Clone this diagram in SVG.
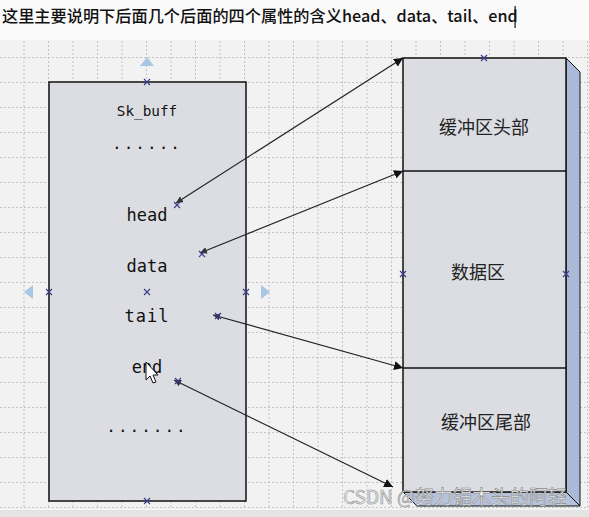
<svg xmlns="http://www.w3.org/2000/svg" width="589" height="517" viewBox="0 0 589 517">
<defs>
<style>
.grid{stroke:#c4c4c4;stroke-width:1;stroke-dasharray:2 2;fill:none}
.box{fill:#dcdde3;stroke:#111;stroke-width:1.5}
.lbl{font-family:"DejaVu Sans Mono","Liberation Mono",monospace;fill:#111;text-anchor:middle}
.cn{font-family:"Noto Sans CJK SC",sans-serif;font-size:18px;fill:#222;text-anchor:middle}
.conn{stroke:#222;stroke-width:1.2;fill:none}
.xm{stroke:#3a3a8a;stroke-width:1.1}
.tri{fill:#a9c6e6}
</style>
<marker id="ah" viewBox="0 0 10 10" refX="10" refY="5" markerWidth="9" markerHeight="9" orient="auto" markerUnits="userSpaceOnUse"><path d="M0,0 L10,5 L0,10 z" fill="#111"/></marker>
<marker id="as" viewBox="0 0 10 10" refX="0" refY="5" markerWidth="7" markerHeight="7" orient="auto" markerUnits="userSpaceOnUse"><path d="M10,0 L0,5 L10,10 z" fill="#333"/></marker>
<symbol id="x" viewBox="-4 -4 8 8" overflow="visible"><path d="M-3,-3 L3,3 M3,-3 L-3,3" class="xm"/></symbol>
</defs>
<rect width="589" height="517" fill="#f2f2f2"/>
<rect x="0" y="0" width="589" height="40" fill="#fafafa"/>
<g id="grid">
<path class="grid" d="M24,41V508M48.5,41V508M73,41V508M97.5,41V508M122,41V508M146.5,41V508M171,41V508M195.5,41V508M220,41V508M244.5,41V508M269,41V508M293.5,41V508M318,41V508M342.5,41V508M367,41V508M391.5,41V508M416,41V508M440.5,41V508M465,41V508M489.5,41V508M514,41V508M538.5,41V508M563,41V508M587.5,41V508"/>
<path class="grid" d="M0,57.5H589M0,82.5H589M0,107.5H589M0,132.5H589M0,157.5H589M0,182.5H589M0,207.5H589M0,232.5H589M0,257.5H589M0,282.5H589M0,307.5H589M0,332.5H589M0,357.5H589M0,382.5H589M0,407.5H589M0,432.5H589M0,457.5H589M0,482.5H589M0,507.5H589"/>
</g>
<rect x="0" y="510" width="589" height="7" fill="#e4e4e4"/>
<text x="2" y="22" font-family="Noto Sans CJK SC,sans-serif" font-size="16.2" font-weight="500" fill="#111">这里主要说明下后面几个后面的四个属性的含义head、data、tail、end</text>
<rect x="514.5" y="6" width="1.2" height="22" fill="#111"/>
<g id="sk_buff">
<rect class="box" x="49" y="82" width="197" height="419"/>
<text class="lbl" x="147" y="116" font-size="14.3">Sk_buff</text>
<text class="lbl" x="147" y="149" font-size="16" letter-spacing="2">......</text>
<text class="lbl" x="147" y="221" font-size="17">head</text>
<text class="lbl" x="147" y="272" font-size="17">data</text>
<text class="lbl" x="147" y="322" font-size="17" letter-spacing="1">tail</text>
<text class="lbl" x="147" y="373" font-size="17">end</text>
<text class="lbl" x="147" y="432" font-size="16" letter-spacing="2">.......</text>
</g>
<g id="buffer">
<polygon points="566,58 580,72 580,506 566,492" fill="#a9b9d6" stroke="#111" stroke-width="1"/>
<polygon points="403,492 566,492 580,506 417,506" fill="#b6c3dc" stroke="#111" stroke-width="1"/>
<rect class="box" x="403" y="58" width="163" height="434"/>
<line x1="403" y1="171" x2="566" y2="171" stroke="#111" stroke-width="1.5"/>
<line x1="403" y1="368" x2="566" y2="368" stroke="#111" stroke-width="1.5"/>
<text class="cn" x="484" y="134">缓冲区头部</text>
<text class="cn" x="478" y="279">数据区</text>
<text class="cn" x="486" y="429">缓冲区尾部</text>
</g>
<g id="connectors">
<line class="conn" x1="176" y1="203" x2="403" y2="58" marker-start="url(#as)" marker-end="url(#ah)"/>
<line class="conn" x1="200" y1="253" x2="403" y2="171" marker-start="url(#as)" marker-end="url(#ah)"/>
<line class="conn" x1="213" y1="315" x2="403" y2="368" marker-start="url(#as)" marker-end="url(#ah)"/>
<line class="conn" x1="174" y1="380" x2="393" y2="487" marker-start="url(#as)" marker-end="url(#ah)"/>
</g>
<g id="handles">
<use href="#x" x="173" y="201" width="8" height="8"/>
<use href="#x" x="198" y="250" width="8" height="8"/>
<use href="#x" x="214" y="312" width="8" height="8"/>
<use href="#x" x="174" y="377" width="8" height="8"/>
<use href="#x" x="143" y="78" width="8" height="8"/>
<use href="#x" x="143" y="497" width="8" height="8"/>
<use href="#x" x="45" y="288" width="8" height="8"/>
<use href="#x" x="143" y="288" width="8" height="8"/>
<use href="#x" x="242" y="288" width="8" height="8"/>
<use href="#x" x="480" y="54" width="8" height="8"/>
<use href="#x" x="399" y="270" width="8" height="8"/>
<use href="#x" x="562" y="270" width="8" height="8"/>
<polygon class="tri" points="147,57 140,66 154,66"/>
<polygon class="tri" points="24,292 33,285 33,299"/>
<polygon class="tri" points="270,292 261,285 261,299"/>
</g>
<path d="M146,362 L146,380 L150,376 L153,383 L156,382 L153,375 L158,375 Z" fill="#fff" stroke="#111" stroke-width="1"/>
<text x="343" y="504" font-family="Noto Sans CJK SC,sans-serif" font-size="19" fill="#eeeeee" stroke="#8a8a8a" stroke-width="0.6">CSDN @努力锯木头的阿轻</text>
</svg>
